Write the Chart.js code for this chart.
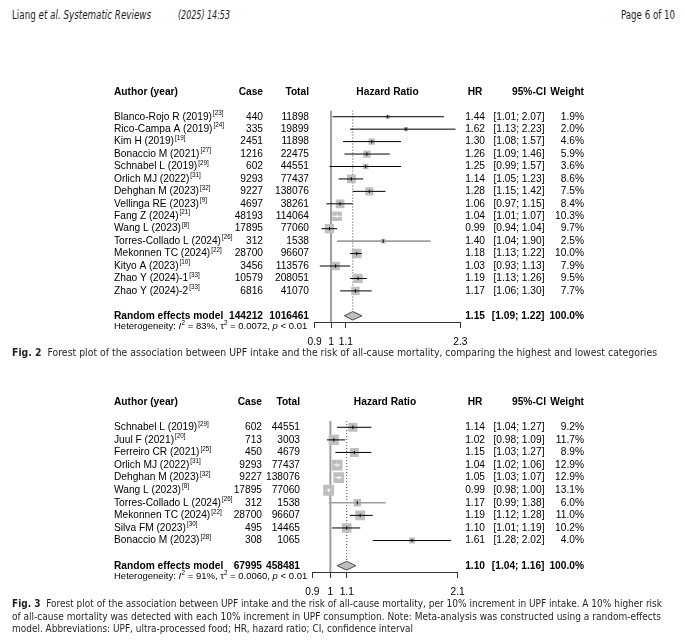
<!DOCTYPE html>
<html>
<head>
<meta charset="utf-8">
<script src="https://cdn.jsdelivr.net/npm/chart.js@4.4.1/dist/chart.umd.min.js"></script>
<style>
body { margin: 0; background: #fff; width: 685px; height: 640px; position: relative; overflow: hidden;
  font-family: "Liberation Sans Narrow", "DejaVu Sans Condensed", "Liberation Sans", sans-serif; color: #231f20; }
.ln { position: absolute; white-space: nowrap; font-size: 11px; line-height: 12px; transform-origin: 0 50%; }
.hd { font-size: 11.5px; line-height: 14px; }
canvas { position: absolute; left: 0; }
</style>
</head>
<body>

<div class="ln hd" style="left:12px;top:8px" data-w="139">Liang <i>et al. Systematic Reviews</i></div>
<div class="ln hd" style="left:178px;top:8px" data-w="52"><i>(2025) 14:53</i></div>
<div class="ln hd" style="left:621px;top:8px" data-w="54">Page 6 of 10</div>

<canvas id="fig2" width="685" height="282" style="top:70px"></canvas>
<div class="ln" style="left:12px;top:347px" data-w="645"><b>Fig. 2</b>&nbsp; Forest plot of the association between UPF intake and the risk of all-cause mortality, comparing the highest and lowest categories</div>

<canvas id="fig3" width="685" height="212" style="top:390px"></canvas>
<div class="ln" style="left:12px;top:598px" data-w="650"><b>Fig. 3</b>&nbsp; Forest plot of the association between UPF intake and the risk of all-cause mortality, per 10% increment in UPF intake. A 10% higher risk</div>
<div class="ln" style="left:12px;top:610.5px" data-w="649">of all-cause mortality was detected with each 10% increment in UPF consumption. Note: Meta-analysis was constructed using a random-effects</div>
<div class="ln" style="left:12px;top:623px" data-w="401">model. Abbreviations: UPF, ultra-processed food; HR, hazard ratio; CI, confidence interval</div>

<script>
// ---- Fig. 2 : highest vs lowest category ----
const studies2 = ["Blanco-Rojo R (2019)", "Rico-Campa A (2019)", "Kim H (2019)", "Bonaccio M (2021)",
  "Schnabel L (2019)", "Orlich MJ (2022)", "Dehghan M (2023)", "Vellinga RE (2023)", "Fang Z (2024)",
  "Wang L (2023)", "Torres-Collado L (2024)", "Mekonnen TC (2024)", "Kityo A (2023)",
  "Zhao Y (2024)-1", "Zhao Y (2024)-2"];
const refs2 = ["23", "24", "19", "27", "29", "31", "32", "9", "21", "8", "26", "22", "10", "33", "33"];
const cases2 = [440, 335, 2451, 1216, 602, 9293, 9227, 4697, 48193, 17895, 312, 28700, 3456, 10579, 6816];
const totals2 = [11898, 19899, 11898, 22475, 44551, 77437, 138076, 38261, 114064, 77060, 1538, 96607, 113576, 208051, 41070];
const hr2 = [1.44, 1.62, 1.30, 1.26, 1.25, 1.14, 1.28, 1.06, 1.04, 0.99, 1.40, 1.18, 1.03, 1.19, 1.17];
const lower2 = [1.01, 1.13, 1.08, 1.09, 0.99, 1.05, 1.15, 0.97, 1.01, 0.94, 1.04, 1.13, 0.93, 1.13, 1.06];
const upper2 = [2.07, 2.23, 1.57, 1.46, 1.57, 1.23, 1.42, 1.15, 1.07, 1.04, 1.90, 1.22, 1.13, 1.26, 1.30];
const weights2 = [1.9, 2.0, 4.6, 5.9, 3.6, 8.6, 7.5, 8.4, 10.3, 9.7, 2.5, 10.0, 7.9, 9.5, 7.7];
const pooled2 = [1.15, 1.09, 1.22];
const pooledN2 = [144212, 1016461];
const hetero2 = ["83%", "0.0072", "< 0.01"];
const ticks2 = [0.9, 1, 1.1, 2.3];

// ---- Fig. 3 : per 10% increment ----
const studies3 = ["Schnabel L (2019)", "Juul F (2021)", "Ferreiro CR (2021)", "Orlich MJ (2022)",
  "Dehghan M (2023)", "Wang L (2023)", "Torres-Collado L (2024)", "Mekonnen TC (2024)",
  "Silva FM (2023)", "Bonaccio M (2023)"];
const refs3 = ["29", "20", "25", "31", "32", "8", "26", "22", "30", "28"];
const cases3 = [602, 713, 450, 9293, 9227, 17895, 312, 28700, 495, 308];
const totals3 = [44551, 3003, 4679, 77437, 138076, 77060, 1538, 96607, 14465, 1065];
const hr3 = [1.14, 1.02, 1.15, 1.04, 1.05, 0.99, 1.17, 1.19, 1.10, 1.61];
const lower3 = [1.04, 0.98, 1.03, 1.02, 1.03, 0.98, 0.99, 1.12, 1.01, 1.28];
const upper3 = [1.27, 1.09, 1.27, 1.06, 1.07, 1.00, 1.38, 1.28, 1.19, 2.02];
const weights3 = [9.2, 11.7, 8.9, 12.9, 12.9, 13.1, 6.0, 11.0, 10.2, 4.0];
const pooled3 = [1.10, 1.04, 1.16];
const pooledN3 = [67995, 458481];
const hetero3 = ["91%", "0.0060", "< 0.01"];
const ticks3 = [0.9, 1, 1.1, 2.1];

const SANS = '"Liberation Sans", Arial, Helvetica, sans-serif';
const FS = 10.2;
const GREY_CI = ["Torres-Collado L (2024)"];

function squareSide(w) {
    return 3 * Math.sqrt(w);
}

// CI drawn white when it fits inside its own square
function ciInside(chart, i, fig) {
    const x = chart.scales.x;
    return x.getPixelForValue(fig.hi[i]) - x.getPixelForValue(fig.lo[i]) < squareSide(fig.w[i]);
}

function tablePlugin(fig) {
    return {
        id: "table" + fig.id,
        afterDraw(chart) {
            const ctx = chart.ctx;
            const ys = chart.scales.y;
            const area = chart.chartArea;
            const col = fig.cols;
            const rowY = v => ys.getPixelForValue(v);
            const norm = FS + "px " + SANS;
            const bold = "bold " + FS + "px " + SANS;
            const small = "9.5px " + SANS;
            const ital = "italic 9.5px " + SANS;
            const sup = "6.3px " + SANS;

            const put = (txt, x, y, align, font) => {
                ctx.font = font;
                ctx.textAlign = align;
                ctx.fillText(txt, x, y);
                return ctx.measureText(txt).width;
            };

            ctx.save();
            ctx.fillStyle = "#000";
            ctx.textBaseline = "middle";

            const hy = rowY(-2);
            put("Author (year)", col.author, hy, "left", bold);
            put("Case", col.cases, hy, "right", bold);
            put("Total", col.total, hy, "right", bold);
            put("Hazard Ratio", (area.left + area.right) / 2, hy, "center", bold);
            put("HR", col.hrHead, hy, "center", bold);
            put("95%-CI", col.ciHead, hy, "right", bold);
            put("Weight", col.weight, hy, "right", bold);

            fig.names.forEach((name, i) => {
                const y = rowY(i);
                const w = put(name, col.author, y, "left", norm);
                put("[" + fig.refs[i] + "]", col.author + w + 1, y - 3.5, "left", sup);
                put(String(fig.cases[i]), col.cases, y, "right", norm);
                put(String(fig.totals[i]), col.total, y, "right", norm);
                put(fig.hr[i].toFixed(2), col.hr, y, "right", norm);
                put("[" + fig.lo[i].toFixed(2) + "; " + fig.hi[i].toFixed(2) + "]", col.ci, y, "right", norm);
                put(fig.w[i].toFixed(1) + "%", col.weight, y, "right", norm);
            });

            const sy = rowY(fig.sumRow);
            put("Random effects model", col.author, sy, "left", bold);
            put(String(fig.pooledN[0]), col.cases, sy, "right", bold);
            put(String(fig.pooledN[1]), col.total, sy, "right", bold);
            put(fig.pooled[0].toFixed(2), col.hr, sy, "right", bold);
            put("[" + fig.pooled[1].toFixed(2) + "; " + fig.pooled[2].toFixed(2) + "]", col.ci, sy, "right", bold);
            put("100.0%", col.weight, sy, "right", bold);

            // heterogeneity line
            const hty = sy + 10.7;
            let x = col.author;
            x += put("Heterogeneity: ", x, hty, "left", small);
            x += put("I", x, hty, "left", ital) + 0.5;
            x += put("2", x, hty - 3.5, "left", sup);
            x += put(" = " + fig.het[0] + ", ", x, hty, "left", small);
            x += put("\u03c4", x, hty, "left", small);
            x += put("2", x, hty - 3.5, "left", sup);
            x += put(" = " + fig.het[1] + ", ", x, hty, "left", small);
            x += put("p", x, hty, "left", ital);
            put(" " + fig.het[2], x, hty, "left", small);

            ctx.restore();
        }
    };
}

function buildForest(canvasId, fig) {
    const n = fig.names.length;
    const sumRow = n + 1;
    const yMax = sumRow + 0.5;
    const dh = 0.34;
    fig.sumRow = sumRow;

    const datasets = [];

    // pooled diamond
    datasets.push({
        type: "line",
        order: 0,
        data: [
            { x: fig.pooled[1], y: sumRow },
            { x: fig.pooled[0], y: sumRow - dh },
            { x: fig.pooled[2], y: sumRow },
            { x: fig.pooled[0], y: sumRow + dh },
            { x: fig.pooled[1], y: sumRow }
        ],
        borderColor: "#4a4a4a",
        borderWidth: 1,
        backgroundColor: "#c0c0c0",
        fill: "shape",
        pointRadius: 0,
        tension: 0
    });

    // point estimate ticks
    datasets.push({
        type: "scatter",
        order: 1,
        data: fig.hr.map((v, i) => ({ x: v, y: i })),
        pointStyle: "line",
        rotation: 90,
        pointRadius: 1.7,
        pointBorderWidth: 1,
        pointBorderColor: ctx => ciInside(ctx.chart, ctx.dataIndex, fig) ? "#ffffff" : "#000000"
    });

    // confidence intervals
    fig.names.forEach((name, i) => {
        const grey = GREY_CI.includes(name);
        datasets.push({
            type: "line",
            order: 2,
            data: [{ x: fig.lo[i], y: i }, { x: fig.hi[i], y: i }],
            borderColor: ctx => ciInside(ctx.chart, i, fig) ? "#ffffff" : (grey ? "#a0a0a0" : "#000000"),
            borderWidth: grey ? 1.6 : 1,
            pointRadius: 0
        });
    });

    // weight squares
    datasets.push({
        type: "scatter",
        order: 3,
        data: fig.hr.map((v, i) => ({ x: v, y: i })),
        pointStyle: "rect",
        pointRadius: ctx => squareSide(fig.w[ctx.dataIndex]) / Math.SQRT2,
        pointBackgroundColor: "#bfbfbf",
        pointBorderWidth: 0
    });

    // pooled estimate (dotted)
    datasets.push({
        type: "line",
        order: 4,
        data: [{ x: fig.pooled[0], y: -0.5 }, { x: fig.pooled[0], y: sumRow - dh }],
        borderColor: "#444",
        borderWidth: 1,
        borderDash: [1, 2],
        pointRadius: 0
    });

    // line of no effect
    datasets.push({
        type: "line",
        order: 5,
        data: [{ x: 1, y: -0.5 }, { x: 1, y: yMax }],
        borderColor: "#9e9e9e",
        borderWidth: 2,
        pointRadius: 0
    });

    return new Chart(document.getElementById(canvasId), {
        type: "scatter",
        data: { datasets },
        options: {
            responsive: false,
            animation: false,
            events: [],
            layout: { padding: fig.padding },
            plugins: {
                legend: { display: false },
                tooltip: { enabled: false }
            },
            scales: {
                x: {
                    type: "logarithmic",
                    min: fig.ticks[0],
                    max: fig.ticks[fig.ticks.length - 1],
                    afterBuildTicks: scale => {
                        scale.ticks = fig.ticks.map(v => ({ value: v }));
                    },
                    afterFit: scale => {
                        scale.height = 30;
                    },
                    ticks: {
                        autoSkip: false,
                        maxRotation: 0,
                        padding: 8,
                        color: "#000",
                        font: { family: SANS, size: FS },
                        callback: v => String(v)
                    },
                    grid: {
                        drawOnChartArea: false,
                        drawTicks: true,
                        tickLength: 6,
                        color: "#333",
                        lineWidth: 1
                    },
                    border: { display: true, color: "#333", width: 1 }
                },
                y: {
                    type: "linear",
                    reverse: true,
                    min: -0.5,
                    max: yMax,
                    display: false
                }
            }
        },
        plugins: [tablePlugin(fig)]
    });
}

buildForest("fig2", {
    id: 2,
    names: studies2, refs: refs2, cases: cases2, totals: totals2,
    hr: hr2, lo: lower2, hi: upper2, w: weights2,
    pooled: pooled2, pooledN: pooledN2, het: hetero2, ticks: ticks2,
    padding: { top: 40.5, left: 314.7, right: 224.7, bottom: 0 },
    cols: { author: 114, cases: 263, total: 309, hrHead: 475, hr: 485, ci: 544.5, ciHead: 546, weight: 584 }
});

buildForest("fig3", {
    id: 3,
    names: studies3, refs: refs3, cases: cases3, totals: totals3,
    hr: hr3, lo: lower3, hi: upper3, w: weights3,
    pooled: pooled3, pooledN: pooledN3, het: hetero3, ticks: ticks3,
    padding: { top: 31, left: 312.3, right: 227.3, bottom: 0 },
    cols: { author: 114, cases: 262, total: 300, hrHead: 475, hr: 485, ci: 544.5, ciHead: 546, weight: 584 }
});

// squeeze caption lines to the measured widths of the printed page
document.querySelectorAll(".ln[data-w]").forEach(el => {
    const target = Number(el.dataset.w);
    const actual = el.getBoundingClientRect().width;
    if (actual > 0) {
        el.style.transform = "scaleX(" + (target / actual).toFixed(4) + ")";
    }
});
</script>
</body>
</html>
